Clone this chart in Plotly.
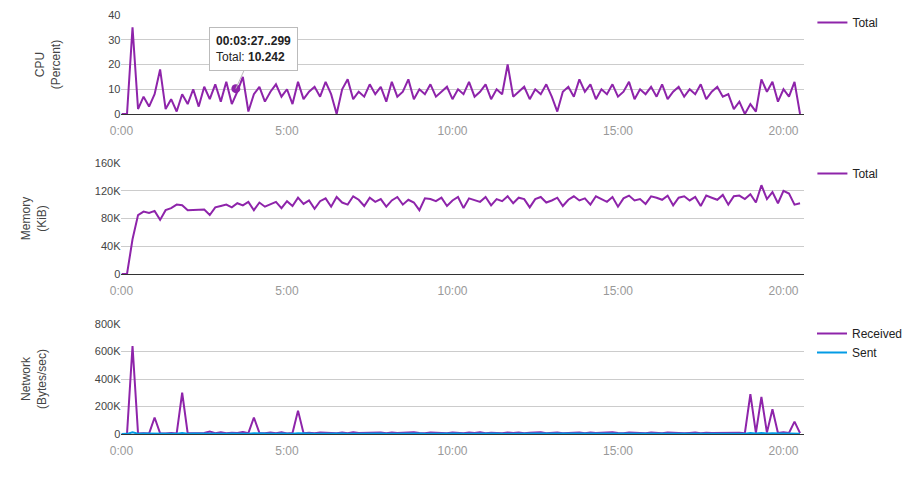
import plotly.graph_objects as go

# samples every 10 s, from 0:00 to 20:30
step = 10
cpu_total = [0, 0, 35, 2, 7, 3, 8, 18, 2, 6, 1, 8, 4, 10, 3, 11, 6, 12, 5, 13,
             4, 9, 15, 1, 8, 11, 5, 9, 12, 7, 10, 4, 13, 6, 9, 11, 7, 13, 8, 0,
             10, 14, 6, 9, 7, 12, 8, 11, 5, 13, 7, 9, 14, 6, 10, 8, 12, 7, 9, 11,
             6, 10, 8, 13, 7, 9, 12, 6, 10, 8, 20, 7, 9, 11, 6, 10, 8, 12, 7, 1,
             9, 11, 7, 14, 9, 12, 6, 10, 8, 12, 7, 9, 13, 6, 10, 8, 11, 7, 12, 6,
             9, 11, 7, 10, 8, 12, 6, 9, 11, 7, 8, 2, 5, 0, 4, 1, 14, 9, 13, 5,
             10, 7, 13, 0]
mem_total = [0, 0, 50, 85, 90, 88, 91, 78, 92, 95, 100, 99, 92, 92, 92, 93, 85, 96, 98, 100,
             96, 102, 99, 104, 92, 103, 97, 101, 104, 95, 105, 98, 110, 101, 106, 94, 105, 109, 97, 111,
             103, 100, 112, 107, 98, 110, 104, 108, 97, 106, 111, 100, 107, 103, 92, 109, 108, 105, 110, 98,
             106, 111, 95, 109, 107, 104, 111, 99, 108, 105, 112, 102, 110, 108, 96, 108, 111, 103, 106, 110,
             98, 107, 112, 106, 109, 100, 112, 108, 104, 111, 97, 109, 113, 106, 108, 101, 112, 110, 107, 113,
             99, 110, 112, 106, 111, 98, 113, 110, 107, 114, 100, 112, 113, 108, 115, 103, 128, 108, 118, 102,
             120, 116, 100, 102]
net_received = [0, 2, 640, 4, 6, 3, 120, 5, 4, 8, 3, 300, 5, 6, 4, 8, 18, 6, 12, 5,
                9, 7, 15, 6, 120, 8, 5, 10, 6, 12, 4, 7, 170, 6, 9, 5, 11, 7, 8, 6,
                10, 5, 12, 7, 9, 6, 8, 11, 5, 10, 7, 9, 6, 12, 8, 5, 10, 7, 9, 6,
                11, 8, 5, 10, 7, 12, 6, 9, 8, 5, 11, 7, 10, 6, 9, 8, 12, 5, 7, 10,
                6, 9, 8, 11, 5, 10, 7, 9, 6, 12, 8, 5, 10, 7, 9, 6, 11, 8, 5, 10,
                7, 9, 6, 8, 10, 5, 9, 7, 8, 6, 10, 7, 9, 6, 290, 8, 270, 10, 180, 7,
                12, 8, 90, 6]
net_sent = [0, 1, 12, 2, 3, 2, 5, 2, 2, 3, 2, 8, 2, 3, 2, 3, 4, 2, 3, 2,
            3, 2, 4, 2, 5, 3, 2, 3, 2, 3, 2, 2, 6, 2, 3, 2, 3, 2, 3, 2,
            3, 2, 3, 2, 3, 2, 3, 3, 2, 3, 2, 3, 2, 3, 3, 2, 3, 2, 3, 2,
            3, 3, 2, 3, 2, 3, 2, 3, 3, 2, 3, 2, 3, 2, 3, 3, 3, 2, 2, 3,
            2, 3, 3, 3, 2, 3, 2, 3, 2, 3, 3, 2, 3, 2, 3, 2, 3, 3, 2, 3,
            2, 3, 2, 3, 3, 2, 3, 2, 3, 2, 3, 2, 3, 2, 8, 3, 7, 3, 5, 2,
            3, 3, 4, 2]
times = [i * step for i in range(len(cpu_total))]

hover_t = 207.299
hover_cpu = 10.242

tick_secs = [0, 300, 600, 900, 1200]
tick_text = ["0:00", "5:00", "10:00", "15:00", "20:00"]

purple = "#8e24aa"
blue = "#039be5"

# the page body has an 8px margin, so the figure is smaller and shifted
W, H, OFF = 900, 468, 8


def px_x(p):
    return min(1, max(0, (p - OFF) / W))


def px_y(p):
    return min(1, max(0, 1 - (p - OFF) / H))


fig = go.Figure()
fig.add_trace(go.Scatter(x=times, y=cpu_total, name="Total", mode="lines",
                         line=dict(color=purple, width=2), xaxis="x", yaxis="y", legend="legend"))
fig.add_trace(go.Scatter(x=[hover_t], y=[hover_cpu], mode="markers", showlegend=False,
                         marker=dict(color=purple, size=9), xaxis="x", yaxis="y"))
fig.add_trace(go.Scatter(x=times, y=[v * 1000 for v in mem_total], name="Total", mode="lines",
                         line=dict(color=purple, width=2), xaxis="x2", yaxis="y2", legend="legend2"))
fig.add_trace(go.Scatter(x=times, y=[v * 1000 for v in net_received], name="Received", mode="lines",
                         line=dict(color=purple, width=2), xaxis="x3", yaxis="y3", legend="legend3"))
fig.add_trace(go.Scatter(x=times, y=[v * 1000 for v in net_sent], name="Sent", mode="lines",
                         line=dict(color=blue, width=2), xaxis="x3", yaxis="y3", legend="legend3"))

xdom = [px_x(122), px_x(808)]
xax = dict(domain=xdom, range=[0, 1238], tickvals=tick_secs, ticktext=tick_text, showgrid=False,
           zeroline=False, showline=True, linecolor="#333", ticks="outside", ticklen=6,
           tickcolor="rgba(0,0,0,0)", automargin=False, tickfont=dict(color="#999", size=12))
grid = dict(showgrid=True, gridcolor="#ccc", zeroline=False, tickfont=dict(color="#444", size=11),
            title_font=dict(color="#444", size=12), title_standoff=45, automargin=False)

leg = dict(x=px_x(816), xanchor="left", yanchor="top", bgcolor="rgba(0,0,0,0)",
           font=dict(size=12, color="#222"), tracegroupgap=0, itemwidth=30)

fig.update_layout(
    width=W, height=H, margin=dict(l=0, r=0, t=0, b=0),
    paper_bgcolor="white", plot_bgcolor="white",
    font=dict(family="Arial, Liberation Sans, sans-serif"),
    xaxis=dict(**xax, anchor="y"),
    xaxis2=dict(**xax, anchor="y2"),
    xaxis3=dict(**xax, anchor="y3"),
    yaxis=dict(**grid, domain=[px_y(114), 0.985], range=[0, 40], dtick=10,
               title_text="CPU<br>(Percent)"),
    yaxis2=dict(**grid, domain=[px_y(274), px_y(163)], range=[0, 160000],
                tickvals=[0, 40000, 80000, 120000, 160000], ticktext=["0", "40K", "80K", "120K", "160K"],
                title_text="Memory<br>(KiB)"),
    yaxis3=dict(**grid, domain=[px_y(434), px_y(324)], range=[0, 800000],
                tickvals=[0, 200000, 400000, 600000, 800000], ticktext=["0", "200K", "400K", "600K", "800K"],
                title_text="Network<br>(Bytes/sec)"),
    legend=dict(**leg, y=1),
    legend2=dict(**leg, y=px_y(159)),
    legend3=dict(**leg, y=px_y(319)),
    annotations=[dict(x=hover_t, y=hover_cpu, xref="x", yref="y",
                      text="<b>00:03:27..299</b><br>Total: <b>10.242</b>", align="left",
                      showarrow=True, arrowhead=0, arrowcolor="#bbb", ax=18, ay=-40,
                      bgcolor="white", bordercolor="#bbb", borderwidth=1, borderpad=6,
                      font=dict(size=12, color="#222"))],
)

fig.write_html("out.html")
